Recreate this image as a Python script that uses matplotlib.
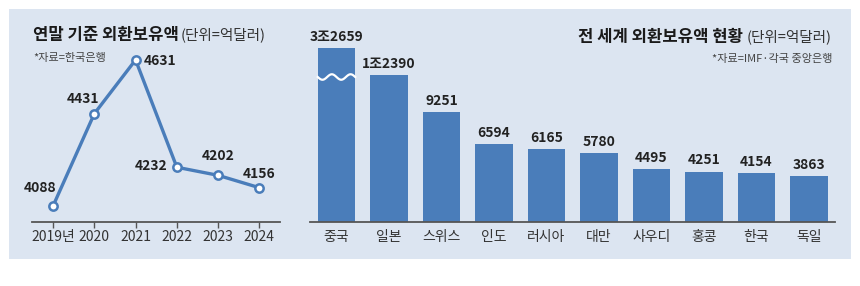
import numpy as np
import matplotlib.pyplot as plt
from matplotlib.patches import Rectangle

plt.rcParams['font.family'] = ['Noto Sans CJK KR', 'DejaVu Sans']

# left chart: year-end reserves
years = ["2019년", "2020", "2021", "2022", "2023", "2024"]
reserves = [4088, 4431, 4631, 4232, 4202, 4156]

# right chart: world reserves
countries = ["중국", "일본", "스위스", "인도", "러시아", "대만", "사우디", "홍콩", "한국", "독일"]
world = [32659, 12390, 9251, 6594, 6165, 5780, 4495, 4251, 4154, 3863]
world_labels = ["3조2659", "1조2390", "9251", "6594", "6165", "5780", "4495", "4251", "4154", "3863"]

BG = "#dce5f1"
BLUE = "#4a7dba"
AX = "#555555"

W, H = 860, 286
fig = plt.figure(figsize=(W / 100, H / 100), dpi=100)
fig.patch.set_facecolor("white")
fig.patches.append(Rectangle((9 / W, (H - 259) / H), 842 / W, 250 / H,
                             transform=fig.transFigure, facecolor=BG, edgecolor="none", zorder=-5))


def px(x0, y0, x1, y1):
    # pixel box (top-left origin) -> figure fraction rect
    return [x0 / W, (H - y1) / H, (x1 - x0) / W, (y1 - y0) / H]


# ---------------- left: line chart ----------------
ax1 = fig.add_axes(px(32, 40, 280, 222))
ax1.set_facecolor("none")
x = np.arange(len(years))
ax1.plot(x, reserves, color=BLUE, lw=2.4, marker="o", ms=6, mfc="white", mec=BLUE, mew=1.8,
         zorder=3, clip_on=False)
ax1.set_xlim(-0.51, 5.5)
ax1.set_ylim(4028.5, 4705)
for s in ["top", "right", "left"]:
    ax1.spines[s].set_visible(False)
ax1.spines["bottom"].set_color(AX)
ax1.spines["bottom"].set_linewidth(1.3)
ax1.set_yticks([])
ax1.set_xticks(x)
ax1.set_xticklabels(years, fontsize=10, color="#333333")
ax1.tick_params(axis="x", length=4, width=1, color=AX, pad=2)

# label offsets in points, relative to each point
offsets = [(-9.4, 13, "center"), (-8, 10.8, "center"), (5.8, -1, "left"),
           (-6.5, 0.7, "right"), (0, 13.7, "center"), (0, 10, "center")]
for xi, v, (dx, dy, ha) in zip(x, reserves, offsets):
    ax1.annotate(str(v), (xi, v), xytext=(dx, dy), textcoords="offset points",
                 ha=ha, va="center", fontsize=10, fontweight="bold", color="#222222")

t1 = fig.text(33 / W, 1 - 35 / H, "연말 기준 외환보유액", fontsize=12, fontweight="bold",
              va="center", ha="left", color="#1a1a1a")
ax1.annotate("(단위=억달러)", xy=(1, 0.5), xycoords=t1, xytext=(1, 0), textcoords="offset points",
             va="center", ha="left", fontsize=10.5, color="#333333", annotation_clip=False)
fig.text(33 / W, 1 - 58 / H, "*자료=한국은행", fontsize=8, va="center", ha="left", color="#444444")

# ---------------- right: bar chart ----------------
ax2 = fig.add_axes(px(310, 40, 835, 222))
ax2.set_facecolor("none")
xb = np.arange(len(countries))
cap = 14660  # China bar is broken
shown = [min(v, cap) for v in world]
ax2.bar(xb, shown, width=0.714, color=BLUE, zorder=2)
ax2.set_xlim(-0.505, 9.495)
ax2.set_ylim(0, 15333)
for s in ["top", "right", "left"]:
    ax2.spines[s].set_visible(False)
ax2.spines["bottom"].set_color(AX)
ax2.spines["bottom"].set_linewidth(1.3)
ax2.set_yticks([])
ax2.set_xticks(xb)
ax2.set_xticklabels(countries, fontsize=10, color="#333333")
ax2.tick_params(axis="x", length=0, pad=6)

for xi, v, lab in zip(xb, shown, world_labels):
    ax2.annotate(lab, (xi, v), xytext=(0, 8), textcoords="offset points", ha="center", va="center",
                 fontsize=10, fontweight="bold", color="#222222")

# break mark on China bar
wx = np.linspace(-0.357, 0.357, 100)
wy = 12215 + 230 * np.sin((wx + 0.357) / 0.714 * 2 * np.pi * 2 + np.pi)
ax2.plot(wx, wy, color="white", lw=1.6, zorder=3)

t2 = fig.text(832 / W, 1 - 37 / H, "(단위=억달러)", fontsize=10.5, color="#333333",
              va="center", ha="right")
ax2.annotate("전 세계 외환보유액 현황", xy=(0, 0.5), xycoords=t2, xytext=(-3, 0),
             textcoords="offset points", va="center", ha="right", fontsize=12,
             fontweight="bold", color="#1a1a1a", annotation_clip=False)
fig.text(832 / W, 1 - 59 / H, "*자료=IMF·각국 중앙은행", fontsize=8, va="center", ha="right",
         color="#444444")

fig.savefig("out.png", dpi=100)
